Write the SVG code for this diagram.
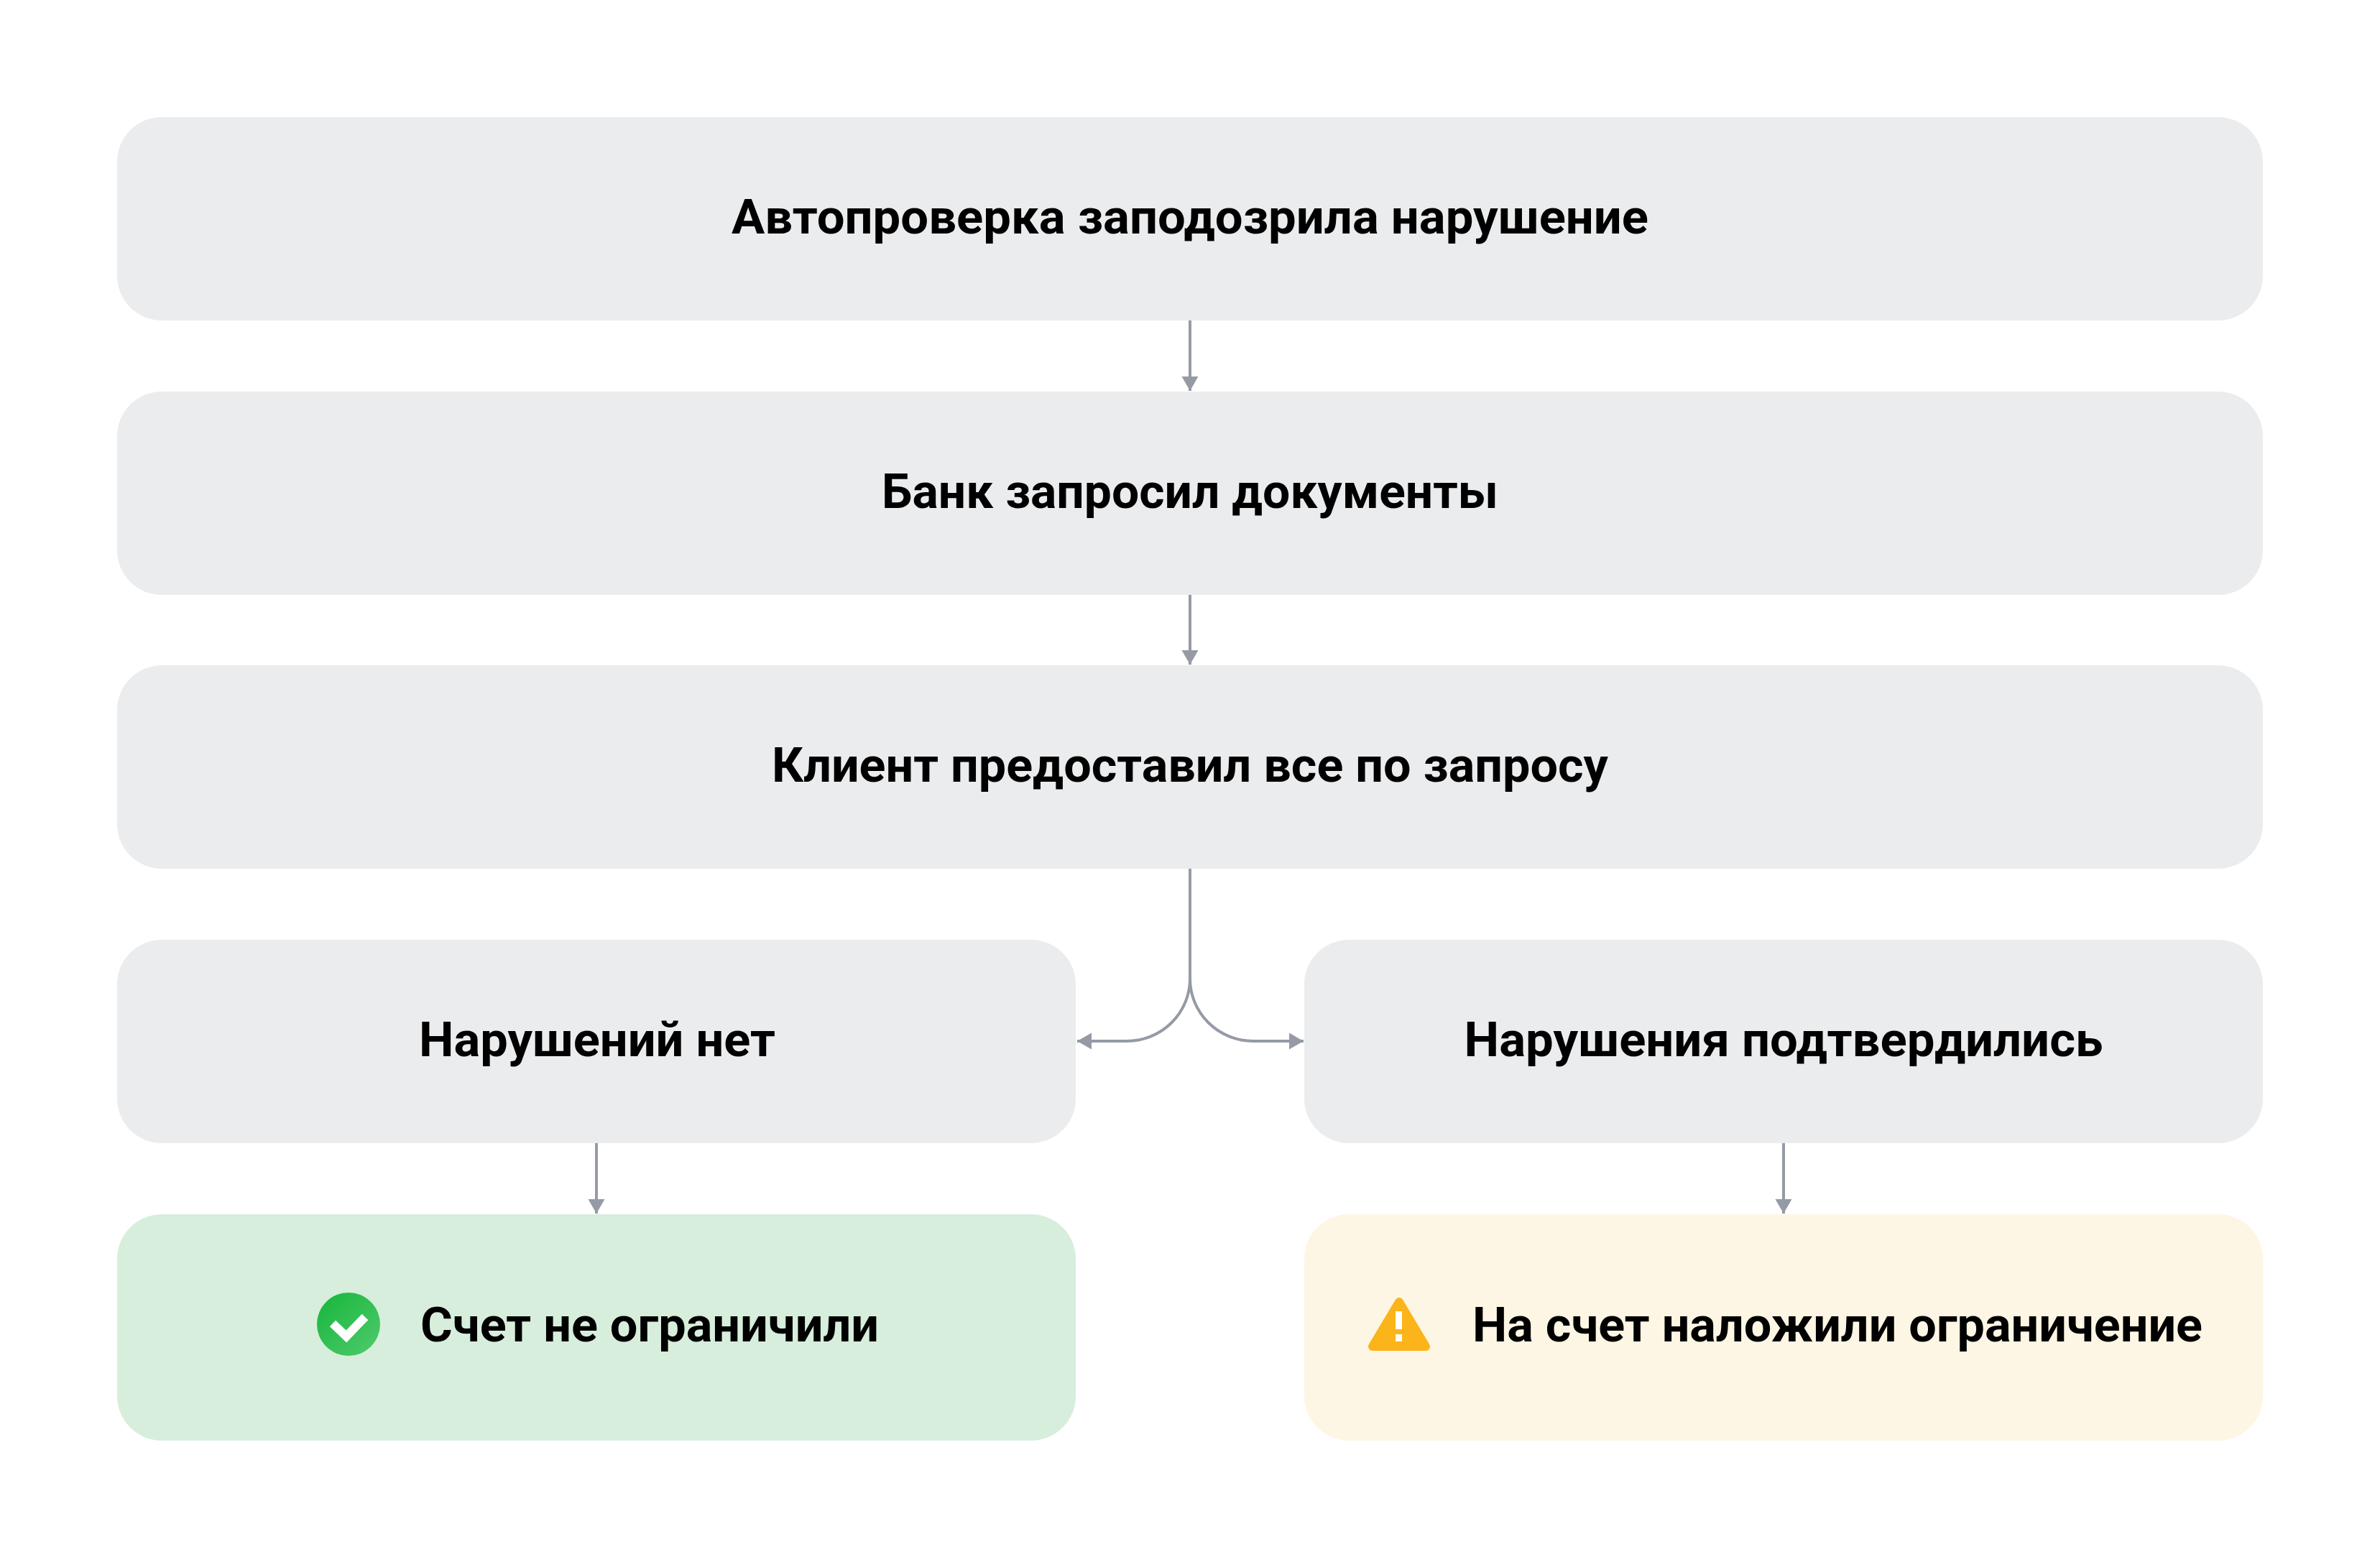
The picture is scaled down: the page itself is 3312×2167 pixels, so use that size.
<svg xmlns="http://www.w3.org/2000/svg" width="3312" height="2167" viewBox="0 0 3312 2167">
  <style>
    .box { fill: #EBECEE; }
    .ok { fill: #D7EEDC; }
    .warn { fill: #FEF6E4; }
    .lbl { font-family: Roboto, "Liberation Sans", "Noto Sans", sans-serif; font-weight: 700; font-size: 66px; fill: #000000; }
    .c { text-anchor: middle; }
    .conn { fill: none; stroke: #959BA5; stroke-width: 4; }
  </style>
  <defs>
    <marker id="ah" markerUnits="userSpaceOnUse" markerWidth="22" markerHeight="24" refX="20" refY="11.5" orient="auto">
      <path d="M0,0 L20,11.5 L0,23 Z" fill="#959BA5"/>
    </marker>
    <linearGradient id="gok" x1="0" y1="0" x2="1" y2="1">
      <stop offset="0" stop-color="#17B53A"/>
      <stop offset="1" stop-color="#4FCB6E"/>
    </linearGradient>
  </defs>
  <rect width="3312" height="2167" fill="#FFFFFF"/>

  <g id="n1">
    <rect class="box" x="163" y="163" width="2986" height="283" rx="62"/>
    <text class="lbl c" x="1656" y="325" textLength="1276" lengthAdjust="spacingAndGlyphs">Автопроверка заподозрила нарушение</text>
  </g>
  <g id="n2">
    <rect class="box" x="163" y="545" width="2986" height="283" rx="62"/>
    <text class="lbl c" x="1656" y="707" textLength="858" lengthAdjust="spacingAndGlyphs">Банк запросил документы</text>
  </g>
  <g id="n3">
    <rect class="box" x="163" y="926" width="2986" height="283" rx="62"/>
    <text class="lbl c" x="1656" y="1088" textLength="1164" lengthAdjust="spacingAndGlyphs">Клиент предоставил все по запросу</text>
  </g>
  <g id="n4">
    <rect class="box" x="163" y="1308" width="1334" height="283" rx="62"/>
    <text class="lbl c" x="831" y="1470" textLength="496" lengthAdjust="spacingAndGlyphs">Нарушений нет</text>
  </g>
  <g id="n5">
    <rect class="box" x="1815" y="1308" width="1334" height="283" rx="62"/>
    <text class="lbl c" x="2482" y="1470" textLength="889" lengthAdjust="spacingAndGlyphs">Нарушения подтвердились</text>
  </g>
  <g id="n6">
    <rect class="ok" x="163" y="1690" width="1334" height="315" rx="62"/>
    <circle cx="485" cy="1843" r="44" fill="url(#gok)"/>
    <polyline points="463,1842 482,1860 508,1833" fill="none" stroke="#FFFFFF" stroke-width="12" stroke-linejoin="miter"/>
    <text class="lbl" x="585" y="1867" textLength="638" lengthAdjust="spacingAndGlyphs">Счет не ограничили</text>
  </g>
  <g id="n7">
    <rect class="warn" x="1815" y="1690" width="1334" height="315" rx="62"/>
    <path d="M1947,1812 L1984,1874 L1910,1874 Z" fill="#FBB41A" stroke="#FBB41A" stroke-width="12" stroke-linejoin="round"/>
    <rect x="1942" y="1825" width="9" height="25" fill="#FFFFFF"/>
    <rect x="1942" y="1857" width="9" height="10" fill="#FFFFFF"/>
    <text class="lbl" x="2049" y="1867" textLength="1016" lengthAdjust="spacingAndGlyphs">На счет наложили ограничение</text>
  </g>

  <g id="connectors">
    <line class="conn" x1="1656" y1="446" x2="1656" y2="544" marker-end="url(#ah)"/>
    <line class="conn" x1="1656" y1="828" x2="1656" y2="925" marker-end="url(#ah)"/>
    <path class="conn" d="M1656,1209 V1362 A88,87 0 0 1 1568,1449 H1499" marker-end="url(#ah)"/>
    <path class="conn" d="M1656,1209 V1362 A88,87 0 0 0 1744,1449 H1814" marker-end="url(#ah)"/>
    <line class="conn" x1="830" y1="1591" x2="830" y2="1689" marker-end="url(#ah)"/>
    <line class="conn" x1="2482" y1="1591" x2="2482" y2="1689" marker-end="url(#ah)"/>
  </g>
</svg>
